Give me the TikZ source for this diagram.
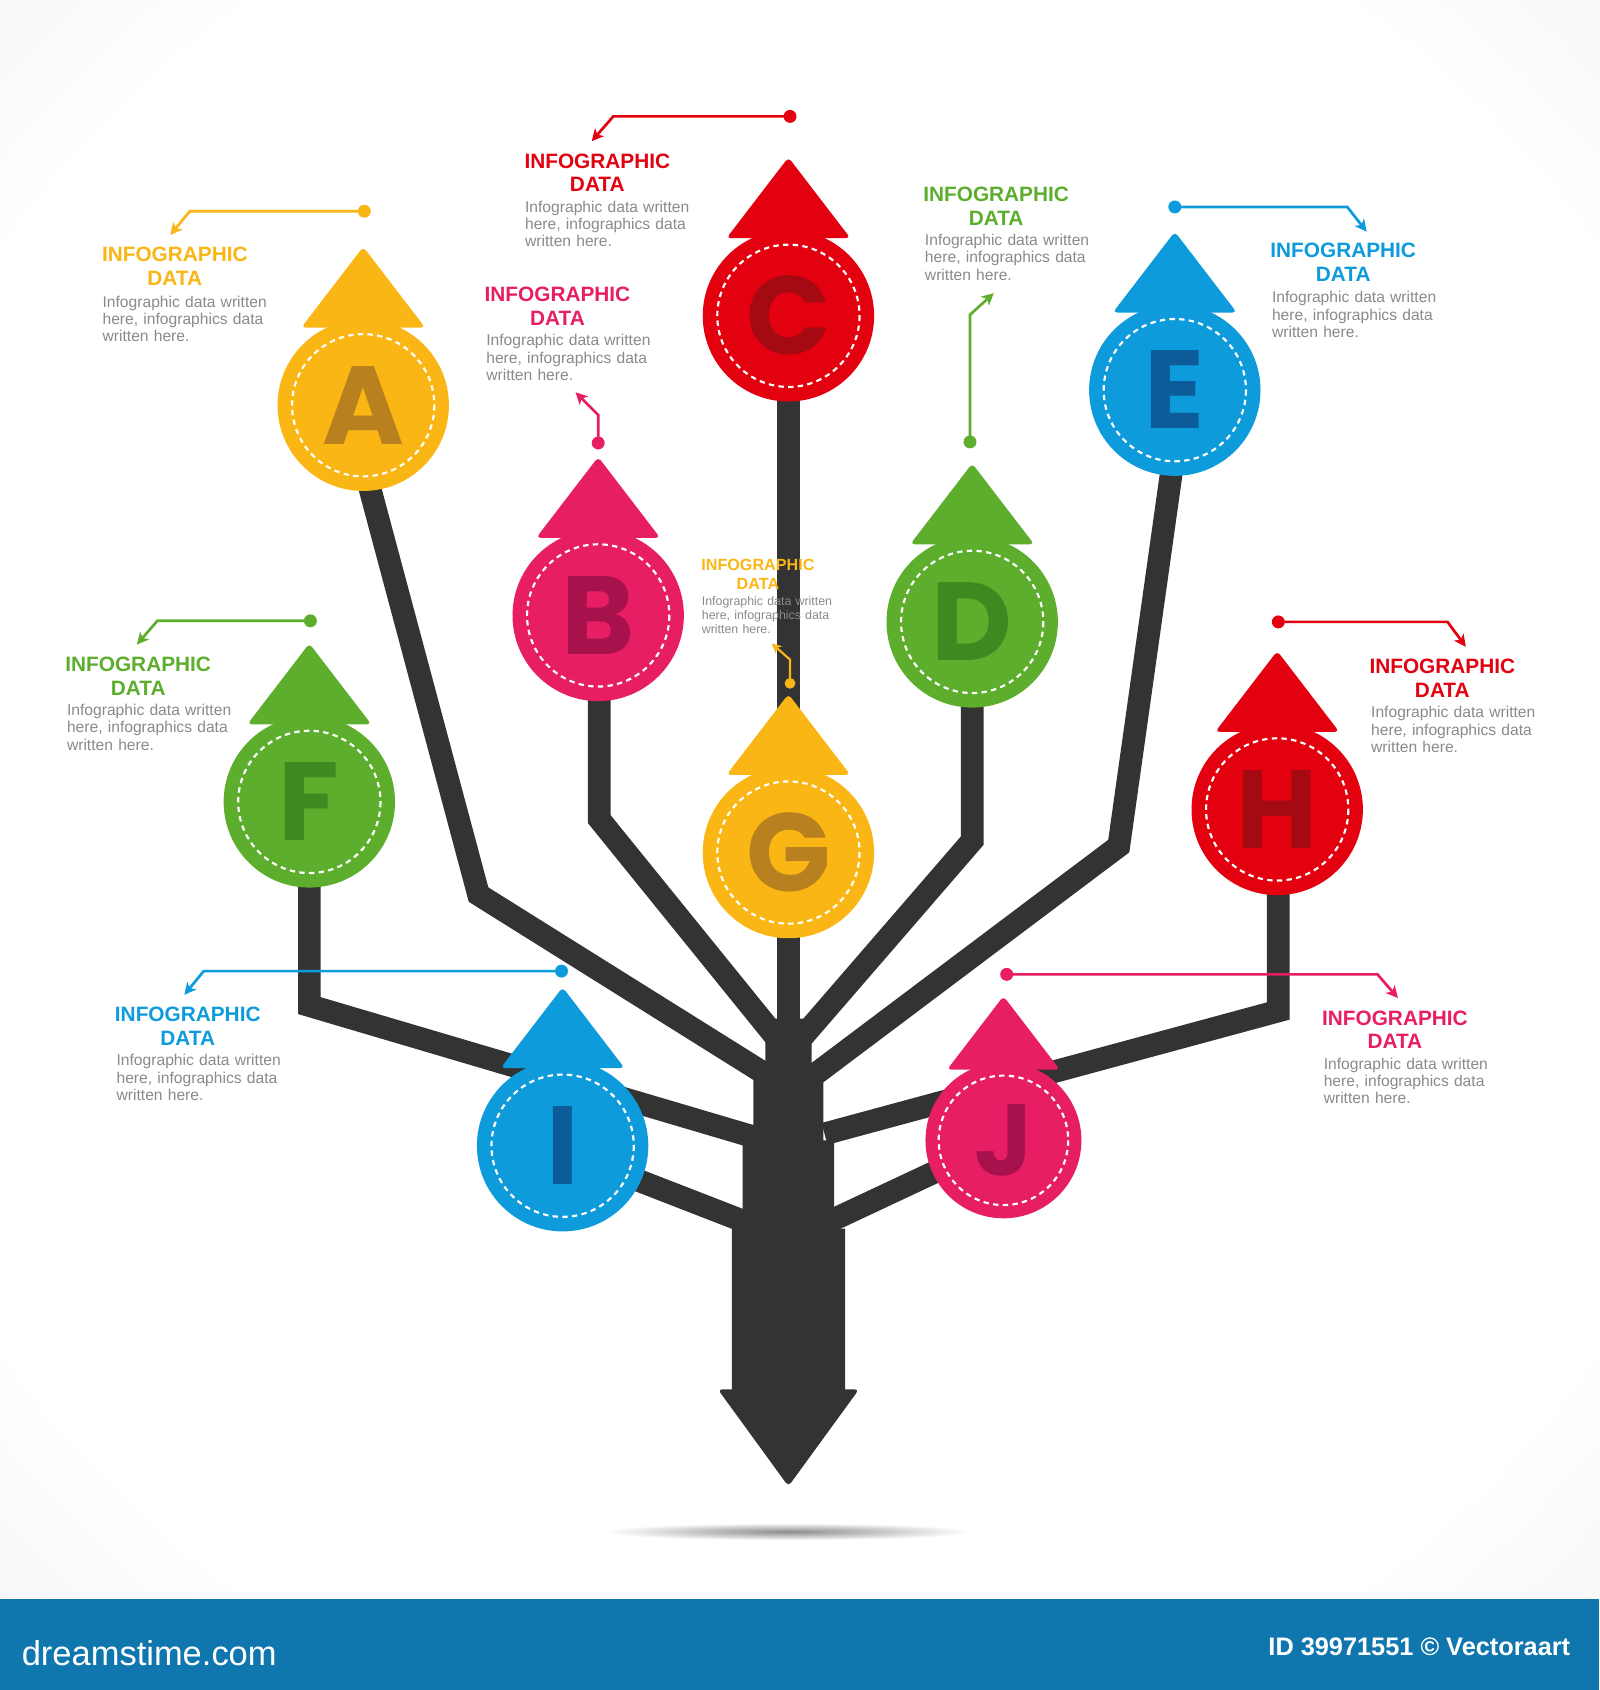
\documentclass[tikz,border=0pt]{standalone}
\usepackage{fontspec}
\setmainfont{Liberation Sans}
\newfontfamily\letterfont{Poppins}
\usetikzlibrary{arrows.meta}
\definecolor{cyel}{HTML}{FAB614}
\definecolor{dyel}{HTML}{B8801E}
\definecolor{cred}{HTML}{E3000F}
\definecolor{dred}{HTML}{A50A12}
\definecolor{cpink}{HTML}{E71E63}
\definecolor{dpink}{HTML}{A8124C}
\definecolor{cgreen}{HTML}{5DAE2D}
\definecolor{dgreen}{HTML}{3E8A20}
\definecolor{cblue}{HTML}{0E9BDC}
\definecolor{dblue}{HTML}{0B5C98}
\definecolor{tree}{HTML}{333333}
\definecolor{bodygray}{HTML}{8A8A8A}
\definecolor{footerblue}{HTML}{0F76AE}
\pgfdeclareradialshading{vign}{\pgfpoint{0bp}{0bp}}{color(0bp)=(white); color(30bp)=(white); color(50bp)=(black!10)}
\tikzset{
  branch/.style={draw=tree, line width=21pt, line join=miter, miter limit=10},
  ctitle/.style={font=\bfseries\fontsize{19.3}{22}\selectfont, inner sep=0pt, anchor=base west, text width=136pt, align=center},
  cbody/.style={font=\fontsize{14.5}{16}\selectfont, text=bodygray, inner sep=0pt, anchor=base west, text width=170pt, align=left},
  stitle/.style={font=\bfseries\fontsize{15}{17}\selectfont, inner sep=0pt, anchor=base west, text width=106pt, align=center},
  sbody/.style={font=\fontsize{11.5}{13}\selectfont, text=bodygray, inner sep=0pt, anchor=base west, text width=140pt, align=left},
  dot/.style={circle, inner sep=0pt, minimum size=12pt},
  cline/.style={line width=2.5pt, -{Stealth[length=11pt,width=11pt,inset=3pt]}},
}
\newcommand\mkr[7]{%
  \begin{scope}[shift={(#2)}]
    \fill[#3, rounded corners=4pt] (0,{-147*#6}) -- ({57.5*#6},{-72*#6}) -- ({-57.5*#6},{-72*#6}) -- cycle;
    \node[circle, fill=#3, inner sep=0pt, minimum size={159pt*#6}] (#1) at (0,0) {};
    \draw[white, line width=2pt, dash pattern=on 5pt off 4pt] (0,0) circle[radius={66*#6}];
    \node[text=#4, font=\letterfont\bfseries\fontsize{#7}{#7}\selectfont, inner sep=0pt, anchor=base] (#1l) at (0,{36*#6}) {#5};
  \end{scope}}
\begin{document}
\begin{tikzpicture}[x=1pt, y=-1pt]
\useasboundingbox (0,0) rectangle (1484,1568);
% background
\shade[shading=vign] (0,0) rectangle (1484,1484);
\shade[inner color=black!45, outer color=white] (731,1421) ellipse[x radius=170, y radius=8];
% marker centres
\coordinate (cA) at (337,376);
\coordinate (cB) at (555,571);
\coordinate (cC) at (731.5,293);
\coordinate (cD) at (902,577);
\coordinate (cE) at (1090,362);
\coordinate (cF) at (287,744);
\coordinate (cG) at (731.5,791);
\coordinate (cH) at (1185,751);
\coordinate (cI) at (522,1063);
\coordinate (cJ) at (931,1058);
% tree
\draw[branch] (341,445) -- (444,830) -- (714,999);
\draw[branch] (556,640) -- (556,760) -- (722,965);
\draw[branch] (cC) -- (731.5,960);
\draw[branch] (902,650) -- (902,780) -- (742,965);
\draw[branch] (1088,430) -- (1038,785) -- (752,1000);
\draw[branch] (287,800) -- (287,933) -- (700,1055);
\draw[branch] (1186,820) -- (1186,938) -- (765,1052);
\draw[branch] (530,1071) -- (700,1137);
\draw[branch] (915,1065) -- (768,1134);
\fill[tree] (710,945) -- (753,945) -- (753,992) -- (764,992) -- (764,1058) -- (774,1058) -- (774,1140) -- (784,1140) -- (784,1289)
  {[rounded corners=4pt] -- (797,1289) -- (731.5,1379) -- (666,1289)} -- (679,1289) -- (679,1140) -- (689,1140)
  -- (689,1052) -- (699,1052) -- (699,995) -- (710,995) -- cycle;
% markers
\mkr{mA}{cA}{cyel}{dyel}{A}{1}{103}
\mkr{mB}{cB}{cpink}{dpink}{B}{1}{103}
\mkr{mC}{cC}{cred}{dred}{C}{1}{103}
\mkr{mD}{cD}{cgreen}{dgreen}{D}{1}{103}
\mkr{mE}{cE}{cblue}{dblue}{E}{1}{103}
\mkr{mF}{cF}{cgreen}{dgreen}{F}{1}{103}
\mkr{mG}{cG}{cyel}{dyel}{G}{1}{103}
\mkr{mH}{cH}{cred}{dred}{H}{1}{103}
\mkr{mI}{cI}{cblue}{dblue}{I}{1}{103}
\mkr{mJ}{cJ}{cpink}{dpink}{J}{0.91}{94}
% callouts
% A
\node[ctitle, text=cyel] (tA) at (94,243) {INFOGRAPHIC\\DATA};
\node[cbody] (bA) at (95,285) {Infographic data written\\here, infographics data\\written here.};
\node[dot, fill=cyel] (dA) at (338,196) {};
\coordinate (aA) at (158,218);
\draw[cline, cyel] (dA.center) -- (176,196) -- (aA);
% C
\node[ctitle, text=cred] (tC) at (486,156) {INFOGRAPHIC\\DATA};
\node[cbody] (bC) at (487,197) {Infographic data written\\here, infographics data\\written here.};
\node[dot, fill=cred] (dC) at (733,108) {};
\coordinate (aC) at (549,131);
\draw[cline, cred] (dC.center) -- (569,108) -- (aC);
% B
\node[ctitle, text=cpink] (tB) at (449,280) {INFOGRAPHIC\\DATA};
\node[cbody] (bB) at (451,321) {Infographic data written\\here, infographics data\\written here.};
\node[dot, fill=cpink] (dB) at (555,411) {};
\coordinate (aB) at (534,364);
\draw[cline, cpink] (dB.center) -- (555,385) -- (aB);
% D
\node[ctitle, text=cgreen] (tD) at (856,187) {INFOGRAPHIC\\DATA};
\node[cbody] (bD) at (858,228) {Infographic data written\\here, infographics data\\written here.};
\node[dot, fill=cgreen] (dD) at (900,410) {};
\coordinate (aD) at (922,272);
\draw[cline, cgreen] (dD.center) -- (900,292) -- (aD);
% E
\node[ctitle, text=cblue] (tE) at (1178,239) {INFOGRAPHIC\\DATA};
\node[cbody] (bE) at (1180,281) {Infographic data written\\here, infographics data\\written here.};
\node[dot, fill=cblue] (dE) at (1090,192) {};
\coordinate (aE) at (1268,215);
\draw[cline, cblue] (dE.center) -- (1250,192) -- (aE);
% F
\node[ctitle, text=cgreen] (tF) at (60,623) {INFOGRAPHIC\\DATA};
\node[cbody] (bF) at (62,664) {Infographic data written\\here, infographics data\\written here.};
\node[dot, fill=cgreen] (dF) at (288,576) {};
\coordinate (aF) at (127,598);
\draw[cline, cgreen] (dF.center) -- (146,576) -- (aF);
% G
\node[stitle, text=cyel] (tG) at (650,529.5) {INFOGRAPHIC\\DATA};
\node[sbody] (bG) at (651,562) {Infographic data written\\here, infographics data\\written here.};
\node[dot, fill=cyel, minimum size=10pt] (dG) at (733,634) {};
\coordinate (aG) at (716,597);
\draw[cyel, line width=2pt, -{Stealth[length=9pt,width=9pt,inset=2.5pt]}] (dG.center) -- (733,612) -- (aG);
% H
\node[ctitle, text=cred] (tH) at (1270,625) {INFOGRAPHIC\\DATA};
\node[cbody] (bH) at (1272,666) {Infographic data written\\here, infographics data\\written here.};
\node[dot, fill=cred] (dH) at (1186,577) {};
\coordinate (aH) at (1360,600);
\draw[cline, cred] (dH.center) -- (1343,577) -- (aH);
% I
\node[ctitle, text=cblue] (tI) at (106,948) {INFOGRAPHIC\\DATA};
\node[cbody] (bI) at (108,989) {Infographic data written\\here, infographics data\\written here.};
\node[dot, fill=cblue] (dI) at (521,901) {};
\coordinate (aI) at (171,923);
\draw[cline, cblue] (dI.center) -- (189,901) -- (aI);
% J
\node[ctitle, text=cpink] (tJ) at (1226,951) {INFOGRAPHIC\\DATA};
\node[cbody] (bJ) at (1228,992) {Infographic data written\\here, infographics data\\written here.};
\node[dot, fill=cpink] (dJ) at (934,904) {};
\coordinate (aJ) at (1297,926);
\draw[cline, cpink] (dJ.center) -- (1278,904) -- (aJ);
% footer
\fill[footerblue] (0,1484) rectangle (1484,1568);
\node[text=white, font=\fontsize{32}{32}\selectfont, inner sep=0pt, anchor=base west] (logo) at (20,1545) {dreamstime.com};
\node[text=white, font=\bfseries\fontsize{23.5}{24}\selectfont, inner sep=0pt, anchor=base east] (credit) at (1457,1536) {ID 39971551 © Vectoraart};
\end{tikzpicture}
\end{document}
